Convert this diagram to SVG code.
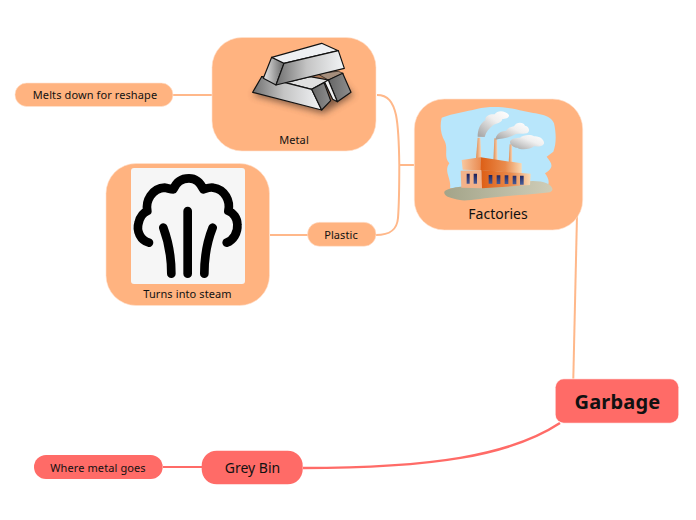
<svg xmlns="http://www.w3.org/2000/svg" width="696" height="520" viewBox="0 0 696 520">
<style>
text{font-family:"Noto Sans","Open Sans",sans-serif;fill:#111;text-anchor:middle}
.o{fill:#ffb380;stroke:#ffe3d0;stroke-width:.6}
.r{fill:#ff6b67}
.co{fill:none;stroke:#ffb88a;stroke-width:2}
.cr{fill:none;stroke:#ff6b67}
.s{font-size:11px;letter-spacing:.1px}
.k{stroke:#111;stroke-width:3.500;stroke-linejoin:round}
.st{fill:none;stroke:#000;stroke-width:26;stroke-linecap:round;stroke-linejoin:round}
</style>
<defs>
<linearGradient id="g1" x1="0" y1="0" x2="1" y2="0"><stop offset="0" stop-color="#6f6f6f"/><stop offset=".45" stop-color="#c4c4c4"/><stop offset="1" stop-color="#f2f4f6"/></linearGradient>
<linearGradient id="g2" x1="0" y1="0" x2="1" y2="0"><stop offset="0" stop-color="#666"/><stop offset="1" stop-color="#8f8f8f"/></linearGradient>
<linearGradient id="g3" x1="0" y1="0" x2="1" y2="0"><stop offset="0" stop-color="#e8e8e8"/><stop offset="1" stop-color="#666"/></linearGradient>
<linearGradient id="cl" x1="0" y1="1" x2="1" y2="0"><stop offset="0" stop-color="#a0a0a0"/><stop offset=".6" stop-color="#efefef"/><stop offset="1" stop-color="#fff"/></linearGradient>
<linearGradient id="ch" x1="0" y1="0" x2="1" y2="0"><stop offset="0" stop-color="#e08a4e"/><stop offset="1" stop-color="#f8d9bd"/></linearGradient>
<linearGradient id="w" x1="0" y1="0" x2="1" y2="0"><stop offset="0" stop-color="#dd5f16"/><stop offset=".6" stop-color="#ea8b4c"/><stop offset="1" stop-color="#f9d9b5"/></linearGradient>
<linearGradient id="w2" x1="0" y1="0" x2="1" y2="0"><stop offset="0" stop-color="#f7c8a0"/><stop offset="1" stop-color="#ea8a50"/></linearGradient>
<linearGradient id="gr" x1="0" y1="0" x2="1" y2="0"><stop offset="0" stop-color="#a3a489"/><stop offset="1" stop-color="#cfcdb8"/></linearGradient>
<linearGradient id="win" x1="0" y1="0" x2="0" y2="1"><stop offset="0" stop-color="#1d1d55"/><stop offset="1" stop-color="#4a5f9a"/></linearGradient>
<filter id="bl" x="-30%" y="-30%" width="160%" height="160%"><feGaussianBlur stdDeviation="11"/></filter>
</defs>

<g id="connectors">
<path class="co" d="M173 95H212"/>
<path class="co" d="M377 95C388 95 393 102 396 115C398 125 399 140 399.300 165C399.300 190 399 205 398 218C397 230 390 235 376 235"/>
<path class="co" d="M399 165H414"/>
<path class="co" d="M270 235H308"/>
<path class="co" d="M577 215L573.300 379"/>
<path class="cr" stroke-width="2.500" d="M303 468C430 468 510 456 560 423"/>
<path class="cr" stroke-width="2" d="M163 467H202"/>
</g>

<g id="node-metal">
<rect class="o" x="212" y="37.500" width="164" height="113.500" rx="30"/>
<g transform="translate(210 30) scale(.33333)">
<path d="M130 195L340 250L430 195L380 140L200 120Z" fill="#5a4030" opacity=".75" filter="url(#bl)"/>
<path d="M320 130L385 124L400 130L355 150Z" fill="#a58e7c" stroke="#111" stroke-width="2"/>
<path d="M355 150L398 130L423 187L382 215Z" fill="url(#g2)" class="k"/>
<path d="M342 152L355 150L382 215L368 208Z" fill="#f0f0f0" class="k"/>
<path d="M155 140L240 155L300 140L355 150L305 178Z" fill="#e0e0e0" class="k"/>
<path d="M128 187L155 140L305 178L335 240Z" fill="url(#g1)" class="k"/>
<path d="M305 178L342 158L362 212L335 240Z" fill="url(#g2)" class="k"/>
<path d="M185 82L222 100L198 165L160 145Z" fill="url(#g3)" class="k"/>
<path d="M185 82L335 40L385 62L222 100Z" fill="#eef0f3" class="k"/>
<path d="M222 100L385 62L403 115L198 165Z" fill="url(#g1)" class="k"/>
</g>
<text class="s" x="294" y="144">Metal</text>
</g>

<g id="node-factories">
<rect class="o" x="414.300" y="99" width="168.400" height="131" rx="30"/>
<g transform="translate(410 95) scale(.33333)">
<path d="M95 68C130 55 170 50 200 42C250 30 300 38 340 48C380 58 420 55 432 85C440 120 438 150 430 170L410 185C425 205 435 215 405 235C415 250 420 260 412 275L120 280C125 250 100 230 118 205C100 185 115 165 105 140C90 115 90 90 95 68Z" fill="#b8e6fb"/>
<path d="M103 290C115 275 180 270 260 270C320 262 380 250 410 265C425 272 435 285 420 292C380 298 320 300 270 305C220 308 170 320 150 315C125 310 100 305 103 290Z" fill="url(#gr)"/>
<path d="M198 190L203 128L211 128L214 190Z" fill="url(#ch)"/>
<path d="M250 200L253 130L261 130L263 200Z" fill="url(#ch)"/>
<path d="M296 205L299 148L306 148L307 205Z" fill="url(#ch)"/>
<path d="M203 125C203 105 210 85 226 76C224 60 245 56 254 58C262 45 285 46 297 60C298 70 285 72 277 72C275 85 258 85 250 90C238 100 228 110 224 126Z" fill="url(#cl)"/>
<path d="M256 134C258 118 272 106 288 108C294 96 306 96 312 94C320 78 342 82 345 92C358 94 362 110 350 115C335 118 322 114 312 120C298 128 275 130 256 134Z" fill="url(#cl)"/>
<path d="M300 140C303 130 318 128 330 128C340 118 365 118 372 124C388 122 404 134 402 146C396 156 382 154 372 154C362 164 330 166 322 158C312 158 300 150 300 140Z" fill="url(#cl)"/>
<path d="M155 195L212 187L213 226L158 224Z" fill="url(#w2)"/>
<path d="M212 187L335 205L335 235L212 226Z" fill="url(#w)"/>
<path d="M152 227L214 225L218 280L154 278Z" fill="#f2b28a"/>
<path d="M214 225L362 236L360 270L216 280Z" fill="url(#w)"/>
<path d="M170 236h9v30h-9zM191 236h10v30h-10zM236 240h11v26h-11zM260 241h11v26h-11zM284 241h11v26h-11zM308 242h11v26h-11zM330 242h11v27h-11z" fill="url(#win)"/>
</g>
<text x="498" y="219" font-size="14">Factories</text>
</g>

<g id="node-steam">
<rect class="o" x="106" y="163.500" width="163.500" height="142" rx="30"/>
<rect x="131" y="168" width="114" height="116" rx="3" fill="#f6f6f6"/>
<g transform="translate(100 161) scale(.33333)">
<path class="st" d="M147 245C122 238 108 210 116 185C120 168 130 155 142 150C136 120 155 82 195 80C205 82 212 85 220 85C230 60 250 52 267 52C285 52 300 62 310 85C320 82 330 78 340 80C375 85 392 120 385 150C400 155 412 172 412 190C414 215 400 238 380 245"/>
<path class="st" d="M190 200C205 240 214 290 214 338"/>
<path class="st" d="M263 150V338"/>
<path class="st" d="M338 200C322 240 313 290 313 338"/>
</g>
<text class="s" x="187.500" y="298">Turns into steam</text>
</g>

<g id="node-melts">
<rect class="o" x="15" y="83" width="158" height="23.500" rx="11.700"/>
<text class="s" x="95" y="99">Melts down for reshape</text>
</g>

<g id="node-plastic">
<rect class="o" x="307.500" y="222.300" width="68.500" height="24" rx="12"/>
<text class="s" x="341" y="239">Plastic</text>
</g>

<g id="node-garbage">
<rect x="555" y="378.500" width="124" height="45" rx="9" fill="#ffe6e5"/>
<rect class="r" x="555.700" y="379.300" width="122.600" height="43.400" rx="8"/>
<text x="617.500" y="409" font-size="20" font-weight="700" letter-spacing=".2">Garbage</text>
</g>

<g id="node-greybin">
<rect class="r" x="201.700" y="450.700" width="101" height="33.600" rx="15"/>
<text x="252.500" y="473" font-size="14">Grey Bin</text>
</g>

<g id="node-wheremetal">
<rect class="r" x="34" y="455" width="128.700" height="24" rx="12"/>
<text class="s" x="98" y="472">Where metal goes</text>
</g>
</svg>
